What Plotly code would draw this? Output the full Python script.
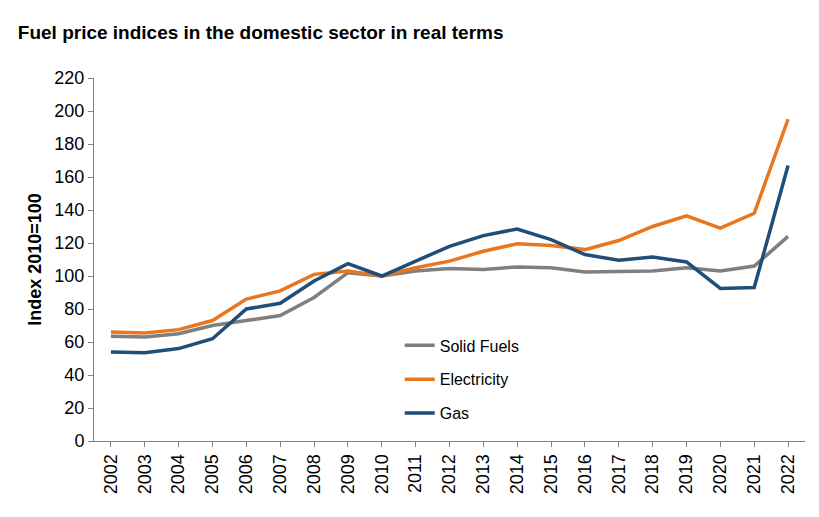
import plotly.graph_objects as go

years = [str(y) for y in range(2002, 2023)]
solid = [63.5, 63, 65, 70, 73, 76, 87, 102, 100, 103, 104.5, 104, 105.5, 105, 102.5, 103, 103, 105, 103, 106, 124]
elec = [66, 65.5, 67.5, 73, 86, 91, 101, 103, 100, 105, 109, 115, 119.5, 118.5, 116, 121.5, 130, 136.5, 129, 138, 195]
gas = [54, 53.5, 56, 62, 80, 83.5, 97, 107.5, 100, 109, 118, 124.5, 128.5, 122, 113, 109.5, 111.5, 108.5, 92.5, 93, 167]

fig = go.Figure()
for name, vals, col in [("Solid Fuels", solid, "#7F7F7F"), ("Electricity", elec, "#E8761E"), ("Gas", gas, "#1F4E79")]:
    fig.add_trace(go.Scatter(x=years, y=vals, name=name, legendgroup=name, mode="lines", line=dict(color=col, width=3.5)))

fig.update_layout(
    width=819, height=517, plot_bgcolor="white", paper_bgcolor="white",
    font=dict(family="Liberation Sans, Arial", size=18, color="black"),
    title=dict(text="<b>Fuel price indices in the domestic sector in real terms</b>", x=0.012, y=0.965, font=dict(size=19)),
    margin=dict(l=86, r=22, t=70, b=84),
    legend=dict(x=0.43, y=0.31, xanchor="left", yanchor="top", font=dict(size=16), tracegroupgap=10, bgcolor="rgba(0,0,0,0)"),
    xaxis=dict(tickangle=-90, showline=True, linecolor="#808080", ticks="outside", tickcolor="#808080", showgrid=False, range=[-0.5, 20.5]),
    yaxis=dict(range=[0, 220], dtick=20, showline=True, linecolor="#808080", ticks="outside", tickcolor="#808080", showgrid=False,
               title=dict(text="<b>Index 2010=100</b>", font=dict(size=18), standoff=8)),
)
fig.write_html("out.html")
